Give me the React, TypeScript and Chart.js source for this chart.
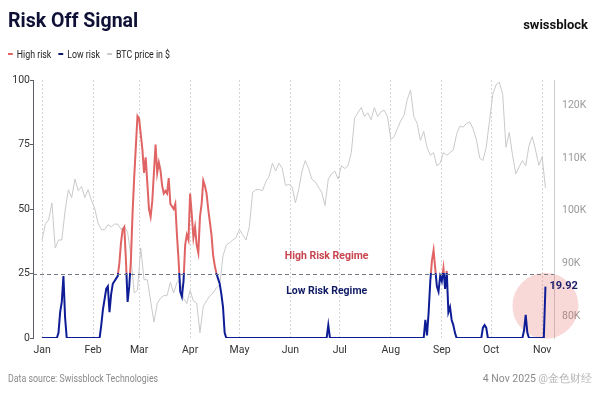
import React, { useEffect, useRef } from "react";
import { Chart, registerables } from "chart.js";

Chart.register(...registerables);

const FONT = "'Roboto', sans-serif";

// ---------- DATA ----------
const monthLabels = ["Jan", "Feb", "Mar", "Apr", "May", "Jun", "Jul", "Aug", "Sep", "Oct", "Nov"];
// day-of-year (Jan 1 = 0) of each month start, 2025
const monthStartDays = [0, 31, 59, 90, 120, 151, 181, 212, 243, 273, 304];

// Risk Off Signal, daily from Jan 1 (day 0) to Nov 3 (day 306)
const riskValues = [
  0, 0, 0, 0, 0, 0, 0, 0, 0, 0,
  2, 10, 14, 24, 8, 0, 0, 0, 0, 0,
  0, 0, 0, 0, 0, 0, 0, 0, 0, 0,
  0, 0, 0, 0, 0, 0, 5, 11, 15, 19,
  20, 10, 17, 21, 22, 23, 24, 29, 37, 42,
  43, 30, 14, 20, 30, 48, 62, 74, 86, 85,
  79, 73, 64, 70, 60, 50, 47, 53, 64, 75,
  64, 68, 65, 59, 56, 57, 56, 62, 52, 51,
  50, 52, 40, 30, 18, 16, 22, 36, 40, 38,
  56, 48, 39, 43, 36, 33, 47, 52, 61, 59,
  56, 50, 45, 40, 32, 28, 25, 23, 21, 17,
  12, 2, 0, 0, 0, 0, 0, 0, 0, 0,
  0, 0, 0, 0, 0, 0, 0, 0, 0, 0,
  0, 0, 0, 0, 0, 0, 0, 0, 0, 0,
  0, 0, 0, 0, 0, 0, 0, 0, 0, 0,
  0, 0, 0, 0, 0, 0, 0, 0, 0, 0,
  0, 0, 0, 0, 0, 0, 0, 0, 0, 0,
  0, 0, 0, 0, 5, 0, 0, 0, 0, 0,
  0, 0, 0, 0, 0, 0, 0, 0, 0, 0,
  0, 0, 0, 0, 0, 0, 0, 0, 0, 0,
  0, 0, 0, 0, 0, 0, 0, 0, 0, 0,
  0, 0, 0, 0, 0, 0, 0, 0, 0, 0,
  0, 0, 0, 0, 0, 0, 0, 0, 0, 0,
  0, 0, 0, 7, 1, 10, 22, 30, 34, 27,
  20, 18, 24, 22, 27, 19, 26, 10, 12, 7,
  5, 2, 0, 0, 0, 0, 0, 0, 0, 0,
  0, 0, 0, 0, 0, 0, 0, 0, 4, 5,
  4, 0, 0, 0, 0, 0, 0, 0, 0, 0,
  0, 0, 0, 0, 0, 0, 0, 0, 0, 0,
  0, 0, 0, 3, 9, 2, 0, 0, 0, 0,
  0, 0, 0, 0, 0, 0, 19.92,
];

// BTC price in $K, every 2 days from Jan 1 (day 0) to Nov 3 (day 306)
const btcStepDays = 2;
const btcPricesK = [
  94.5, 97.5, 98.3, 101.5, 93, 94.5, 94.5, 100, 104, 102.5,
  106, 103.8, 104.6, 102.5, 104, 102, 100.5, 97.7, 96.5, 96.4,
  97.4, 97, 97.5, 97.5, 96.5, 97, 96, 91.5, 84.5, 85,
  93, 87, 87, 83, 79, 82.5, 83.5, 84, 84, 86.5,
  84.5, 86.5, 87, 83.5, 82.5, 85, 83, 82.6, 77, 82,
  83, 84, 84.5, 85.5, 86, 91.5, 93.5, 94, 94.5, 95,
  96.5, 95.5, 94.5, 97, 103.5, 104, 104, 103.8, 105.5, 106.5,
  109, 107.5, 109, 108, 104.8, 105, 104.5, 101.5, 104, 107.5,
  109.5, 108, 106, 105.5, 104.5, 103.5, 101, 106, 107, 107.5,
  106, 108.5, 108, 108.5, 111, 117.5, 118.5, 119.5, 117.8, 118.5,
  117.2, 119.5, 117.8, 118.7, 119, 117.8, 113.5, 114, 115.5, 117,
  118, 121, 122.8, 117.8, 116.5, 113.3, 115, 112, 110.5, 111,
  108.5, 109, 111, 110.5, 111, 111.5, 114.5, 116, 115.8, 116.5,
  116.8, 115.5, 113.5, 110, 109.5, 112, 117, 122, 123.8, 124.3,
  122, 112, 114.8, 110.5, 107, 108.3, 109.5, 108.5, 112.3, 114,
  111.5, 108.6, 110.2, 104.3,
];

const riskThreshold = 25;
const leftTickStep = 25;
const rightTickValues = [80000, 90000, 100000, 110000, 120000];

// ---------- STYLE ----------
const RED = "#e06464";
const RED_TEXT = "#c8454f";
const NAVY = "#0e1d96";
const NAVY_TEXT = "#0f1a63";
const GREY = "#c9c9c9";

const riskData = riskValues.map((v, i) => ({ x: i, y: v }));
const btcData = btcPricesK.map((v, i) => ({ x: i * btcStepDays, y: v * 1000 }));

const overlayPlugin = {
  id: "riskOverlay",
  beforeDatasetsDraw(chart: any) {
    const { ctx, scales } = chart;
    const lastDay = riskValues.length - 1;
    const cx = scales.x.getPixelForValue(lastDay);
    const cy = scales.y.getPixelForValue(12.5);
    ctx.save();
    ctx.beginPath();
    ctx.arc(cx, cy, 33, 0, Math.PI * 2);
    ctx.fillStyle = "rgba(230,90,90,0.24)";
    ctx.fill();
    ctx.restore();
  },
  afterDatasetsDraw(chart: any) {
    const { ctx, chartArea, scales } = chart;
    const x = scales.x;
    const y = scales.y;
    const yy = Math.round(y.getPixelForValue(riskThreshold)) + 0.5;
    ctx.save();
    ctx.setLineDash([4, 3]);
    ctx.strokeStyle = "#737886";
    ctx.lineWidth = 1;
    ctx.beginPath();
    ctx.moveTo(chartArea.left, yy);
    ctx.lineTo(chartArea.right, yy);
    ctx.stroke();
    ctx.setLineDash([]);

    ctx.font = `bold 10.5px ${FONT}`;
    ctx.textAlign = "center";
    ctx.textBaseline = "middle";
    const labelX = x.getPixelForValue(173);
    ctx.fillStyle = RED_TEXT;
    ctx.fillText("High Risk Regime", labelX, y.getPixelForValue(31.8));
    ctx.fillStyle = NAVY_TEXT;
    ctx.fillText("Low Risk Regime", labelX, y.getPixelForValue(18.2));

    const lastDay = riskValues.length - 1;
    const last = riskValues[lastDay];
    ctx.textAlign = "left";
    ctx.font = `bold 11px ${FONT}`;
    ctx.fillStyle = "#1b1f6b";
    ctx.fillText(last.toFixed(2), x.getPixelForValue(lastDay) + 4, y.getPixelForValue(last));
    ctx.restore();
  },
};

function riskColor(context: any) {
  const chart = context.chart;
  const { ctx, chartArea, scales } = chart;
  if (!chartArea || !scales.y) return NAVY;
  const y25 = scales.y.getPixelForValue(riskThreshold);
  const g = ctx.createLinearGradient(0, chartArea.top, 0, chartArea.bottom);
  const stop = Math.min(1, Math.max(0, (y25 - chartArea.top) / (chartArea.bottom - chartArea.top)));
  g.addColorStop(0, RED);
  g.addColorStop(stop, RED);
  g.addColorStop(stop, NAVY);
  g.addColorStop(1, NAVY);
  return g;
}

export default function App() {
  const canvasRef = useRef<HTMLCanvasElement>(null);

  useEffect(() => {
    const canvas = canvasRef.current;
    if (!canvas) return;
    Chart.defaults.font.family = FONT;
    const chart = new Chart(canvas, {
      type: "line",
      data: {
        datasets: [
          {
            label: "Risk",
            data: riskData,
            yAxisID: "y",
            borderColor: riskColor,
            borderWidth: 2,
            pointRadius: 0,
            tension: 0,
            order: 1,
          },
          {
            label: "BTC price in $",
            data: btcData,
            yAxisID: "y2",
            borderColor: GREY,
            borderWidth: 1,
            pointRadius: 0,
            tension: 0,
            order: 2,
          },
        ],
      },
      options: {
        animation: false,
        responsive: false,
        layout: { padding: { top: 80, bottom: 34, left: 0, right: 0 } },
        plugins: { legend: { display: false }, tooltip: { enabled: false } },
        scales: {
          x: {
            type: "linear",
            min: -5.5,
            max: 311.2,
            afterFit: (s: any) => {
              s.height = 22;
            },
            afterBuildTicks: (s: any) => {
              s.ticks = monthStartDays.map((v) => ({ value: v }));
            },
            ticks: {
              autoSkip: false,
              maxRotation: 0,
              padding: 6,
              color: "#333",
              font: { size: 10.5 },
              callback: (_v: any, i: number) => monthLabels[i],
            },
            grid: { display: true, drawTicks: false, color: "#d6d6d6", lineWidth: 1 },
            border: { display: false, dash: [2, 2] },
          },
          y: {
            position: "left",
            min: 0,
            max: 100,
            afterFit: (s: any) => {
              s.width = 33;
            },
            ticks: { stepSize: leftTickStep, padding: 0, color: "#333", font: { size: 10.5 } },
            grid: { drawOnChartArea: false, drawTicks: true, tickLength: 3, color: "#5a5e6a" },
            border: { display: true, color: "#5a5e6a", width: 1 },
          },
          y2: {
            position: "right",
            min: 76000,
            max: 124700,
            afterFit: (s: any) => {
              s.width = 46;
            },
            afterBuildTicks: (s: any) => {
              s.ticks = rightTickValues.map((v) => ({ value: v }));
            },
            ticks: {
              padding: 8,
              color: "#9a9a9a",
              font: { size: 10.5 },
              callback: (v: any) => `${Math.round(Number(v) / 1000)}K`,
            },
            grid: { display: false, drawTicks: false },
            border: { display: true, color: "#cfcfcf", width: 1 },
          },
        },
      },
      plugins: [overlayPlugin],
    } as any);
    return () => chart.destroy();
  }, []);

  const legendItem = (color: string, text: string, thick = 1.5) => (
    <span style={{ display: "inline-flex", alignItems: "center", marginRight: 9 }}>
      <span style={{ display: "inline-block", width: 6, height: thick, background: color, marginRight: 5 }} />
      {text}
    </span>
  );

  return (
    <div style={{ position: "fixed", left: 0, top: 0, width: 600, height: 394, background: "#fff", fontFamily: FONT, overflow: "hidden" }}>
      <canvas ref={canvasRef} width={600} height={394} style={{ position: "absolute", left: 0, top: 0, width: 600, height: 394 }} />
      <div style={{ position: "absolute", left: 8, top: 8, fontSize: 21, fontWeight: 700, color: "#0e1035", whiteSpace: "nowrap", transform: "scaleX(0.93)", transformOrigin: "left center" }}>
        Risk Off Signal
      </div>
      <div style={{ position: "absolute", right: 12, top: 17, fontSize: 13, fontWeight: 700, color: "#111", whiteSpace: "nowrap" }}>swissblock</div>
      <div style={{ position: "absolute", left: 8, top: 47, height: 14, display: "flex", alignItems: "center", fontSize: 11, color: "#222", whiteSpace: "nowrap", transform: "scaleX(0.8)", transformOrigin: "left center" }}>
        {legendItem(RED, "High risk")}
        {legendItem(NAVY_TEXT, "Low risk", 2)}
        {legendItem(GREY, "BTC price in $")}
      </div>
      <div style={{ position: "absolute", left: 8, top: 372, fontSize: 10.5, color: "#8a8a8a", whiteSpace: "nowrap", transform: "scaleX(0.84)", transformOrigin: "left center" }}>
        Data source: Swissblock Technologies
      </div>
      <div style={{ position: "absolute", right: 8, top: 372, fontSize: 10.5, color: "#8a8a8a", whiteSpace: "nowrap" }}>
        4 Nov 2025 <span style={{ color: "#b5b5b5" }}>@金色财经</span>
      </div>
    </div>
  );
}
